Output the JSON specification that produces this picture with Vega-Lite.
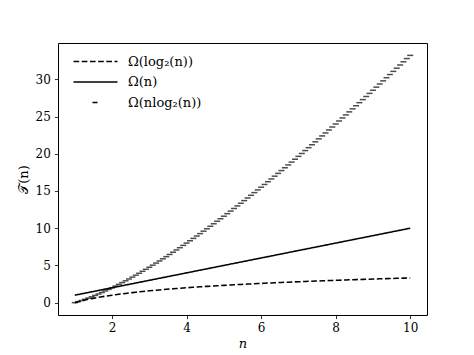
{
  "$schema": "https://vega.github.io/schema/vega-lite/v6.json",
  "autosize": "none",
  "width": 369,
  "height": 272,
  "padding": {"left": 58, "top": 43, "right": 47, "bottom": 40},
  "background": "white",
  "config": {
    "font": "DejaVu Serif",
    "view": {"stroke": "black", "strokeWidth": 1},
    "axis": {
      "domain": false,
      "grid": false,
      "tickColor": "black",
      "tickSize": 3.6,
      "tickWidth": 0.8,
      "labelFont": "DejaVu Serif",
      "labelFontSize": 12,
      "labelColor": "black",
      "titleFont": "DejaVu Serif",
      "titleFontSize": 13,
      "titleFontWeight": "normal",
      "titleColor": "black"
    },
    "legend": {"labelFont": "DejaVu Serif"}
  },
  "data": {"values": [
    {"n":1.0,"lg":0.0,"nlg":0.0},
    {"n":1.0909,"lg":0.1255,"nlg":0.137},
    {"n":1.1818,"lg":0.2410,"nlg":0.285},
    {"n":1.2727,"lg":0.3479,"nlg":0.443},
    {"n":1.3636,"lg":0.4475,"nlg":0.610},
    {"n":1.4545,"lg":0.5406,"nlg":0.786},
    {"n":1.5455,"lg":0.6280,"nlg":0.971},
    {"n":1.6364,"lg":0.7105,"nlg":1.163},
    {"n":1.7273,"lg":0.7885,"nlg":1.362},
    {"n":1.8182,"lg":0.8625,"nlg":1.568},
    {"n":1.9091,"lg":0.9329,"nlg":1.781},
    {"n":2.0,"lg":1.0,"nlg":2.0},
    {"n":2.0909,"lg":1.0641,"nlg":2.225},
    {"n":2.1818,"lg":1.1255,"nlg":2.456},
    {"n":2.2727,"lg":1.1844,"nlg":2.692},
    {"n":2.3636,"lg":1.2410,"nlg":2.933},
    {"n":2.4545,"lg":1.2955,"nlg":3.180},
    {"n":2.5455,"lg":1.3479,"nlg":3.431},
    {"n":2.6364,"lg":1.3985,"nlg":3.688},
    {"n":2.7273,"lg":1.4475,"nlg":3.948},
    {"n":2.8182,"lg":1.4948,"nlg":4.213},
    {"n":2.9091,"lg":1.5406,"nlg":4.482},
    {"n":3.0,"lg":1.5850,"nlg":4.755},
    {"n":3.0909,"lg":1.6280,"nlg":5.032},
    {"n":3.1818,"lg":1.6699,"nlg":5.313},
    {"n":3.2727,"lg":1.7105,"nlg":5.598},
    {"n":3.3636,"lg":1.7500,"nlg":5.886},
    {"n":3.4545,"lg":1.7885,"nlg":6.179},
    {"n":3.5455,"lg":1.8260,"nlg":6.474},
    {"n":3.6364,"lg":1.8625,"nlg":6.773},
    {"n":3.7273,"lg":1.8981,"nlg":7.075},
    {"n":3.8182,"lg":1.9329,"nlg":7.380},
    {"n":3.9091,"lg":1.9668,"nlg":7.689},
    {"n":4.0,"lg":2.0,"nlg":8.0},
    {"n":4.0909,"lg":2.0324,"nlg":8.314},
    {"n":4.1818,"lg":2.0641,"nlg":8.632},
    {"n":4.2727,"lg":2.0952,"nlg":8.952},
    {"n":4.3636,"lg":2.1255,"nlg":9.275},
    {"n":4.4545,"lg":2.1553,"nlg":9.601},
    {"n":4.5455,"lg":2.1844,"nlg":9.929},
    {"n":4.6364,"lg":2.2130,"nlg":10.260},
    {"n":4.7273,"lg":2.2410,"nlg":10.594},
    {"n":4.8182,"lg":2.2685,"nlg":10.930},
    {"n":4.9091,"lg":2.2955,"nlg":11.269},
    {"n":5.0,"lg":2.3219,"nlg":11.610},
    {"n":5.0909,"lg":2.3479,"nlg":11.953},
    {"n":5.1818,"lg":2.3735,"nlg":12.299},
    {"n":5.2727,"lg":2.3985,"nlg":12.647},
    {"n":5.3636,"lg":2.4232,"nlg":12.997},
    {"n":5.4545,"lg":2.4475,"nlg":13.350},
    {"n":5.5455,"lg":2.4713,"nlg":13.705},
    {"n":5.6364,"lg":2.4948,"nlg":14.061},
    {"n":5.7273,"lg":2.5178,"nlg":14.420},
    {"n":5.8182,"lg":2.5406,"nlg":14.781},
    {"n":5.9091,"lg":2.5629,"nlg":15.145},
    {"n":6.0,"lg":2.5850,"nlg":15.510},
    {"n":6.0909,"lg":2.6067,"nlg":15.877},
    {"n":6.1818,"lg":2.6280,"nlg":16.246},
    {"n":6.2727,"lg":2.6491,"nlg":16.617},
    {"n":6.3636,"lg":2.6699,"nlg":16.990},
    {"n":6.4545,"lg":2.6903,"nlg":17.365},
    {"n":6.5455,"lg":2.7105,"nlg":17.741},
    {"n":6.6364,"lg":2.7304,"nlg":18.120},
    {"n":6.7273,"lg":2.7500,"nlg":18.500},
    {"n":6.8182,"lg":2.7694,"nlg":18.882},
    {"n":6.9091,"lg":2.7885,"nlg":19.266},
    {"n":7.0,"lg":2.8074,"nlg":19.651},
    {"n":7.0909,"lg":2.8260,"nlg":20.039},
    {"n":7.1818,"lg":2.8443,"nlg":20.428},
    {"n":7.2727,"lg":2.8625,"nlg":20.818},
    {"n":7.3636,"lg":2.8804,"nlg":21.210},
    {"n":7.4545,"lg":2.8981,"nlg":21.604},
    {"n":7.5455,"lg":2.9156,"nlg":22.000},
    {"n":7.6364,"lg":2.9329,"nlg":22.397},
    {"n":7.7273,"lg":2.9500,"nlg":22.795},
    {"n":7.8182,"lg":2.9668,"nlg":23.195},
    {"n":7.9091,"lg":2.9835,"nlg":23.597},
    {"n":8.0,"lg":3.0,"nlg":24.0},
    {"n":8.0909,"lg":3.0163,"nlg":24.405},
    {"n":8.1818,"lg":3.0324,"nlg":24.811},
    {"n":8.2727,"lg":3.0484,"nlg":25.218},
    {"n":8.3636,"lg":3.0641,"nlg":25.627},
    {"n":8.4545,"lg":3.0797,"nlg":26.038},
    {"n":8.5455,"lg":3.0952,"nlg":26.450},
    {"n":8.6364,"lg":3.1104,"nlg":26.863},
    {"n":8.7273,"lg":3.1255,"nlg":27.277},
    {"n":8.8182,"lg":3.1405,"nlg":27.693},
    {"n":8.9091,"lg":3.1553,"nlg":28.111},
    {"n":9.0,"lg":3.1699,"nlg":28.529},
    {"n":9.0909,"lg":3.1844,"nlg":28.949},
    {"n":9.1818,"lg":3.1988,"nlg":29.371},
    {"n":9.2727,"lg":3.2130,"nlg":29.793},
    {"n":9.3636,"lg":3.2271,"nlg":30.217},
    {"n":9.4545,"lg":3.2410,"nlg":30.642},
    {"n":9.5455,"lg":3.2548,"nlg":31.069},
    {"n":9.6364,"lg":3.2685,"nlg":31.497},
    {"n":9.7273,"lg":3.2820,"nlg":31.925},
    {"n":9.8182,"lg":3.2955,"nlg":32.355},
    {"n":9.9091,"lg":3.3088,"nlg":32.787},
    {"n":10.0,"lg":3.3219,"nlg":33.219}
  ]},
  "encoding": {
    "x": {
      "field": "n", "type": "quantitative",
      "scale": {"domain": [0.55, 10.45], "nice": false, "zero": false},
      "axis": {"values": [2, 4, 6, 8, 10], "title": "n", "titleFontStyle": "italic", "titlePadding": 4, "labelPadding": 4}
    }
  },
  "layer": [
    {
      "mark": {"type": "line", "color": "black", "strokeWidth": 1.55},
      "encoding": {
        "y": {
          "field": "lg", "type": "quantitative",
          "scale": {"domain": [-1.66, 34.88], "nice": false, "zero": false},
          "axis": {"values": [0, 5, 10, 15, 20, 25, 30], "title": "𝒯(n)", "titlePadding": 5, "labelPadding": 4}
        },
        "strokeDash": {
          "datum": "Ω(log₂(n))",
          "type": "nominal",
          "scale": {
            "domain": ["Ω(log₂(n))", "Ω(n)", "Ω(nlog₂(n))"],
            "range": [[5.7, 2.5], [1, 0], [0, 19, 5, 100]]
          },
          "legend": {
            "title": null,
            "orient": "none",
            "legendX": 31,
            "legendY": 12,
            "padding": 0,
            "symbolType": "M-4,0H4",
            "symbolSize": 121,
            "symbolStrokeWidth": 1.55,
            "symbolStrokeColor": "black",
            "labelFont": "DejaVu Serif",
            "labelFontSize": 13,
            "labelColor": "black",
            "labelOffset": 26,
            "rowPadding": 6.5
          }
        }
      }
    },
    {
      "mark": {"type": "line", "color": "black", "strokeWidth": 1.55},
      "encoding": {
        "y": {"field": "n", "type": "quantitative"},
        "strokeDash": {"datum": "Ω(n)", "type": "nominal"}
      }
    },
    {
      "mark": {"type": "tick", "color": "black", "orient": "horizontal", "size": 6, "thickness": 1.5},
      "encoding": {
        "y": {"field": "nlg", "type": "quantitative"},
        "strokeDash": {"datum": "Ω(nlog₂(n))", "type": "nominal"}
      }
    }
  ]
}
